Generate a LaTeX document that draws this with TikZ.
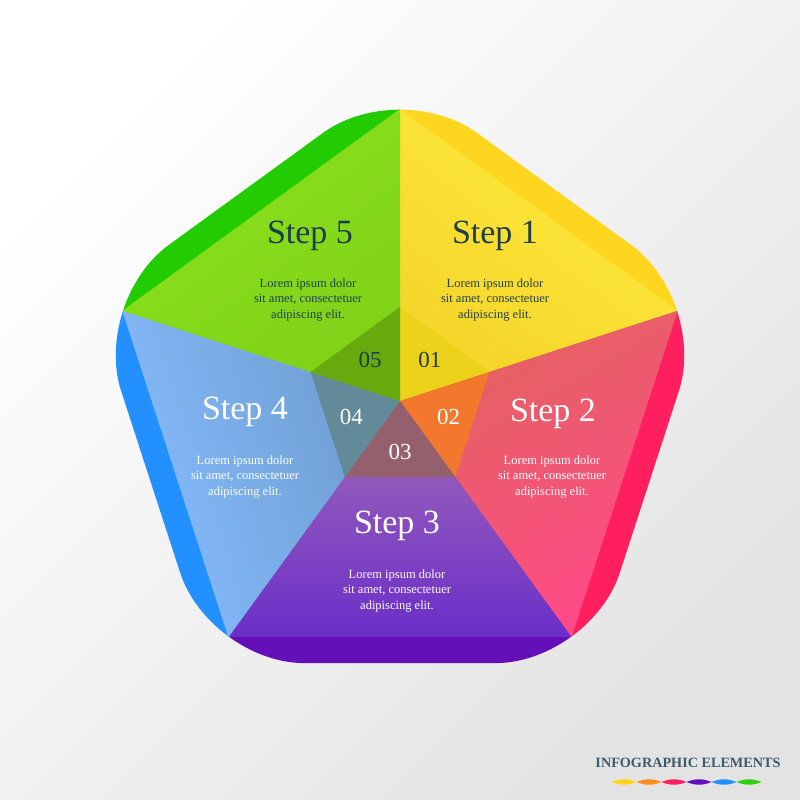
\documentclass[tikz,border=0pt]{standalone}
\usepackage{fontspec}
\setmainfont{Liberation Serif}
\usepackage{xcolor}
\usepackage{tikz}
\definecolor{darktxt}{HTML}{1F3D4E}
\definecolor{labeltxt}{HTML}{3C5A6E}
\definecolor{bandA}{HTML}{FFD61F}
\definecolor{bandB}{HTML}{FF1F5E}
\definecolor{bandC}{HTML}{6410B8}
\definecolor{bandD}{HTML}{2291FF}
\definecolor{bandE}{HTML}{22CC00}
\definecolor{faceAo}{HTML}{FFEC3E}
\definecolor{faceAm}{HTML}{FFE836}
\definecolor{faceAi}{HTML}{F4D428}
\definecolor{faceBo}{HTML}{FF4A88}
\definecolor{faceBm}{HTML}{FF826E}
\definecolor{faceBi}{HTML}{E2645E}
\definecolor{faceCo}{HTML}{6A2EC8}
\definecolor{faceCm}{HTML}{8E50C4}
\definecolor{faceCi}{HTML}{A46CB6}
\definecolor{faceDo}{HTML}{86BCFF}
\definecolor{faceDm}{HTML}{84BAFF}
\definecolor{faceDi}{HTML}{6C9ACC}
\definecolor{faceEo}{HTML}{8AE41C}
\definecolor{faceEm}{HTML}{8EE61E}
\definecolor{faceEi}{HTML}{80D018}
\definecolor{innerA}{HTML}{EDD21C}
\definecolor{innerB}{HTML}{F3782E}
\definecolor{innerC}{HTML}{94606E}
\definecolor{innerD}{HTML}{628A98}
\definecolor{innerE}{HTML}{66AA0E}
\definecolor{leafO}{HTML}{FF8C1E}
\definecolor{leafG}{HTML}{30D010}
\newcommand{\leaf}[2]{\fill[#2] (#1) ++(-12.5,0) to[bend left=22] ++(25,0) to[bend left=22] ++(-25,0) -- cycle;}

\begin{document}
\begin{tikzpicture}[
    x=1pt, y=1pt,
    heading/.style={anchor=base, inner sep=0pt, font=\fontsize{34}{40}\selectfont},
    body/.style={align=center, inner sep=0pt, font=\fontsize{12.5}{15.7}\selectfont},
    num/.style={inner sep=0pt, font=\fontsize{23}{26}\selectfont}
]
\shade[top color=white, bottom color=black!11, shading angle=45] (-400,-399) rectangle (400,401);
\useasboundingbox (-400,-399) rectangle (400,401);

\begin{scope}
\clip[rounded corners=95pt] (54:262.1) -- (18:324) -- (-54:324) -- (-126:324)
  -- (162:324) -- (90:324) -- cycle;
\fill[bandA] (0,0) -- (90:600) -- (18:600) -- cycle;
\fill[bandB] (0,0) -- (18:600) -- (-54:600) -- cycle;
\fill[bandC] (0,0) -- (-54:600) -- (-126:600) -- cycle;
\fill[bandD] (0,0) -- (-126:600) -- (162:600) -- cycle;
\fill[bandE] (0,0) -- (162:600) -- (90:600) -- cycle;

\shade[top color=faceAo, middle color=faceAm, bottom color=faceAi, shading angle=-36]
  (0,0) -- (90:292) -- (18:292) -- cycle;
\shade[top color=faceBo, middle color=faceBm, bottom color=faceBi, shading angle=-150]
  (0,0) -- (18:292) -- (-54:292) -- cycle;
\shade[top color=faceCo, middle color=faceCm, bottom color=faceCi, shading angle=180]
  (0,0) -- (-54:292) -- (-126:292) -- cycle;
\shade[top color=faceDo, middle color=faceDm, bottom color=faceDi, shading angle=108]
  (0,0) -- (-126:292) -- (162:292) -- cycle;
\shade[top color=faceEo, middle color=faceEm, bottom color=faceEi, shading angle=36]
  (0,0) -- (162:292) -- (90:292) -- cycle;

\fill[innerA] (0,0) -- (90:94) -- (18:94) -- cycle;
\fill[innerB] (0,0) -- (18:94) -- (-54:94) -- cycle;
\fill[innerC] (0,0) -- (-54:94) -- (-126:94) -- cycle;
\fill[innerD] (0,0) -- (-126:94) -- (162:94) -- cycle;
\fill[innerE] (0,0) -- (162:94) -- (90:94) -- cycle;
\end{scope}

\node[heading, text=darktxt] (step1) at (95,157) {Step 1};
\node[heading, text=white] (step2) at (153,-20) {Step 2};
\node[heading, text=white] (step3) at (-3,-132) {Step 3};
\node[heading, text=white] (step4) at (-155,-19) {Step 4};
\node[heading, text=darktxt] (step5) at (-90,157) {Step 5};

\node[body, text=darktxt] (txt1) at (95,101) {Lorem ipsum dolor\\sit amet, consectetuer\\adipiscing elit.};
\node[body, text=white] (txt2) at (152,-76) {Lorem ipsum dolor\\sit amet, consectetuer\\adipiscing elit.};
\node[body, text=white] (txt3) at (-3,-190) {Lorem ipsum dolor\\sit amet, consectetuer\\adipiscing elit.};
\node[body, text=white] (txt4) at (-155,-76) {Lorem ipsum dolor\\sit amet, consectetuer\\adipiscing elit.};
\node[body, text=darktxt] (txt5) at (-92,101) {Lorem ipsum dolor\\sit amet, consectetuer\\adipiscing elit.};

\node[num, text=darktxt] (num1) at (54:51) {01};
\node[num, text=white] (num2) at (-18:51) {02};
\node[num, text=white] (num3) at (-90:51) {03};
\node[num, text=white] (num4) at (-162:51) {04};
\node[num, text=darktxt] (num5) at (126:51) {05};

\node[inner sep=0pt, text=labeltxt, font=\fontsize{14.2}{17}\selectfont\bfseries] (caption) at (288,-362)
  {INFOGRAPHIC ELEMENTS};
\leaf{224,-381}{bandA}
\leaf{249,-381}{leafO}
\leaf{274,-381}{bandB}
\leaf{299,-381}{bandC}
\leaf{324,-381}{bandD}
\leaf{349,-381}{leafG}
\end{tikzpicture}
\end{document}
